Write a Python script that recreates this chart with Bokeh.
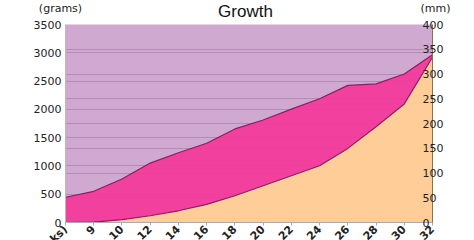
import math
from bokeh.plotting import figure
from bokeh.layouts import column
from bokeh.models import (Range1d, LinearAxis, FixedTicker, Grid, Label)
from bokeh.embed import file_html
from bokeh.resources import INLINE

# ---- data ----
week_labels = ["(weeks)", "9", "10", "12", "14", "16", "18", "20", "22", "24", "26", "28", "30", "32"]
length_mm = [51, 63, 88, 120, 141, 160, 189, 207, 229, 250, 277, 280, 300, 339]
weight_g = [0, 5, 50, 119, 207, 320, 472, 650, 827, 1004, 1310, 1694, 2096, 2921]
grams_ticks = [0, 500, 1000, 1500, 2000, 2500, 3000, 3500]
mm_ticks = [0, 50, 100, 150, 200, 250, 300, 350, 400]
title_text = "Growth"
left_unit = "(grams)"
right_unit = "(mm)"

xs = list(range(len(week_labels)))

# ---- header strip: frame spans the same pixels as the chart frame (65..432) ----
HEAD_H = 19
head = figure(frame_width=367, frame_height=HEAD_H, output_backend="svg", toolbar_location=None,
              x_range=Range1d(65, 432), y_range=Range1d(HEAD_H, 0),
              x_axis_location=None, y_axis_location=None,
              min_border_left=65, min_border_right=42,
              min_border_top=0, min_border_bottom=0)
head.grid.visible = False
head.outline_line_color = None
head.background_fill_color = "white"
head.border_fill_color = "white"
head.add_layout(Label(x=245, y=10.5, text=title_text, text_align="center",
                      text_baseline="middle",
                      text_font="Liberation Sans", text_font_size="17px", text_color="#111111"))
head.add_layout(Label(x=60, y=8, text=left_unit, text_align="center",
                      text_baseline="middle",
                      text_font="DejaVu Sans", text_font_size="11px", text_color="#222222"), "left")
head.add_layout(Label(x=435, y=8, text=right_unit, text_align="center",
                      text_baseline="middle",
                      text_font="DejaVu Sans", text_font_size="11px", text_color="#222222"), "right")

# ---- main chart ----
p = figure(frame_width=367, frame_height=198, output_backend="svg", toolbar_location=None,
           x_range=Range1d(0, len(week_labels) - 1), y_range=Range1d(0, 3500),
           min_border_left=65, min_border_right=42, min_border_top=5, min_border_bottom=0)
p.extra_y_ranges = {"mm": Range1d(0, 400)}

p.background_fill_color = "#CFA9CF"
p.border_fill_color = "white"
p.outline_line_color = None

# grids
p.xgrid.visible = False
p.ygrid.ticker = FixedTicker(ticks=grams_ticks)
p.ygrid.grid_line_color = "#B48AB6"
g2 = Grid(dimension=1, ticker=FixedTicker(ticks=mm_ticks), y_range_name="mm",
          grid_line_color="#B48AB6")
p.add_layout(g2)

# series
p.varea(x=xs, y1=[0] * len(xs), y2=length_mm, y_range_name="mm",
        fill_color="#F43498", fill_alpha=0.9)
p.line(x=xs, y=length_mm, y_range_name="mm", line_color="#8A2060", line_width=1.2)
p.varea(x=xs, y1=[0] * len(xs), y2=weight_g, fill_color="#FECD98")
p.line(x=xs, y=weight_g, line_color="#8A2060", line_width=1.2)

# axes
ax = p.xaxis[0]
ax.ticker = FixedTicker(ticks=xs)
ax.major_label_overrides = {i: t for i, t in enumerate(week_labels)}
ax.major_label_orientation = math.pi / 4
ax.major_label_text_font = "DejaVu Sans"
ax.major_label_text_font_size = "11px"
ax.major_label_text_font_style = "bold"
ax.major_label_text_color = "#222222"
ax.axis_line_color = "#AAAAAA"
ax.major_tick_line_color = "#AAAAAA"
ax.major_tick_out = 3
ax.major_tick_in = 0
ax.minor_tick_line_color = None
ax.major_label_standoff = 2

ay = p.yaxis[0]
ay.ticker = FixedTicker(ticks=grams_ticks)
ay.major_label_text_font = "DejaVu Sans"
ay.major_label_text_font_size = "11px"
ay.major_label_text_color = "#222222"
ay.axis_line_color = "#BBBBBB"
ay.major_tick_line_color = None
ay.major_tick_out = 0
ay.major_tick_in = 0
ay.minor_tick_line_color = None
ay.minor_tick_out = 0
ay.major_label_standoff = 4

ar = LinearAxis(y_range_name="mm", ticker=FixedTicker(ticks=mm_ticks))
ar.major_label_text_font = "DejaVu Sans"
ar.major_label_text_font_size = "11px"
ar.major_label_text_color = "#222222"
ar.axis_line_color = "#8C7048"
ar.major_tick_line_color = None
ar.major_tick_out = 0
ar.major_tick_in = 0
ar.minor_tick_line_color = None
ar.minor_tick_out = 0
ar.major_label_standoff = -10
p.add_layout(ar, "right")

layout = column(head, p, spacing=0)
open("out.html", "w").write(file_html(layout, INLINE))
